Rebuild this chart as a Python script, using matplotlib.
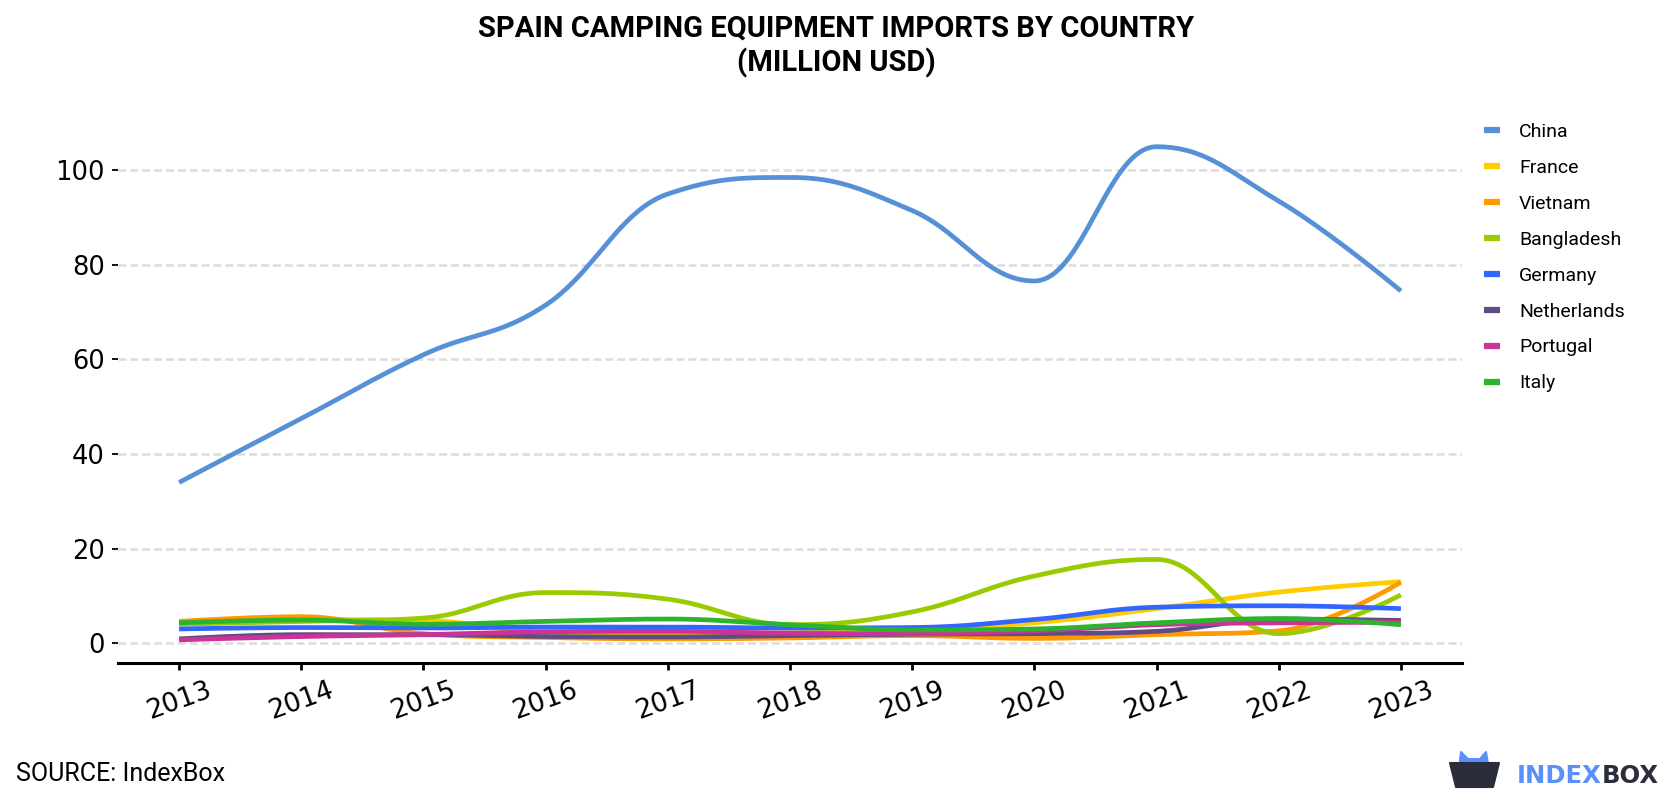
import numpy as np
import matplotlib
matplotlib.use("Agg")
import matplotlib.pyplot as plt
from matplotlib import font_manager
from matplotlib.patches import Polygon

plt.rcParams['font.family'] = ['Roboto', 'DejaVu Sans']

# data, million USD
years = [2013, 2014, 2015, 2016, 2017, 2018, 2019, 2020, 2021, 2022, 2023]
china = [34.0, 47.5, 61.0, 71.5, 95.0, 98.5, 91.5, 76.6, 105.0, 93.5, 74.5]
france = [4.2, 5.0, 4.8, 2.3, 2.0, 2.2, 2.8, 4.3, 7.3, 10.8, 13.0]
vietnam = [4.6, 5.6, 2.0, 1.2, 0.9, 1.1, 1.6, 1.0, 1.8, 2.6, 12.9]
bangladesh = [4.0, 4.6, 5.3, 10.7, 9.3, 3.9, 6.6, 14.2, 17.7, 2.0, 10.2]
germany = [3.0, 3.3, 3.2, 3.4, 3.4, 3.2, 3.3, 5.0, 7.6, 7.9, 7.3]
netherlands = [0.9, 1.8, 1.8, 1.4, 1.3, 1.6, 1.9, 2.0, 2.5, 5.1, 4.8]
portugal = [0.7, 1.4, 1.8, 2.4, 2.5, 2.1, 2.0, 2.6, 3.9, 4.3, 4.4]
italy = [4.3, 4.9, 4.0, 4.6, 5.1, 3.9, 2.8, 3.0, 4.3, 5.2, 3.9]

names = ['China', 'France', 'Vietnam', 'Bangladesh', 'Germany', 'Netherlands', 'Portugal', 'Italy']
series = [china, france, vietnam, bangladesh, germany, netherlands, portugal, italy]
colors = ['#5690d6', '#ffcc00', '#ff9900', '#99cc00', '#3366ff', '#604c84', '#cc3399', '#2eb32e']


def spline(x, y, n=40):
    # bezier spline with control points kept between neighbours (no false extremes)
    x = np.asarray(x, float)
    y = np.asarray(y, float)
    sm = 1.5
    lx, ly, rx, ry = x.copy(), y.copy(), x.copy(), y.copy()
    for i in range(1, len(x) - 1):
        lcx = (sm * x[i] + x[i - 1]) / (sm + 1)
        lcy = (sm * y[i] + y[i - 1]) / (sm + 1)
        rcx = (sm * x[i] + x[i + 1]) / (sm + 1)
        rcy = (sm * y[i] + y[i + 1]) / (sm + 1)
        corr = (rcy - lcy) * (rcx - x[i]) / (rcx - lcx) + y[i] - rcy
        lcy += corr
        rcy += corr
        if lcy > y[i - 1] and lcy > y[i]:
            lcy = max(y[i - 1], y[i])
            rcy = 2 * y[i] - lcy
        elif lcy < y[i - 1] and lcy < y[i]:
            lcy = min(y[i - 1], y[i])
            rcy = 2 * y[i] - lcy
        if rcy > y[i + 1] and rcy > y[i]:
            rcy = max(y[i + 1], y[i])
            lcy = 2 * y[i] - rcy
        elif rcy < y[i + 1] and rcy < y[i]:
            rcy = min(y[i + 1], y[i])
            lcy = 2 * y[i] - rcy
        lx[i], ly[i], rx[i], ry[i] = lcx, lcy, rcx, rcy
    xs, ys = [], []
    for k in range(len(x) - 1):
        t = np.linspace(0, 1, n, endpoint=(k == len(x) - 2))
        a, b, c, d = (1 - t)**3, 3 * t * (1 - t)**2, 3 * t**2 * (1 - t), t**3
        xs.append(a * x[k] + b * rx[k] + c * lx[k + 1] + d * x[k + 1])
        ys.append(a * y[k] + b * ry[k] + c * ly[k + 1] + d * y[k + 1])
    return np.concatenate(xs), np.concatenate(ys)


installed = {f.name for f in font_manager.fontManager.ttflist}
if 'Liberation Sans Narrow' in installed:
    title_font, title_size = ['Liberation Sans Narrow', 'DejaVu Sans'], 25
else:
    title_font, title_size = ['Roboto', 'DejaVu Sans'], 21

fig = plt.figure(figsize=(16.8, 8), dpi=100)
ax = fig.add_axes([118 / 1680, 137 / 800, (1462 - 118) / 1680, (663 - 107) / 800])

for name, vals, c in zip(names, series, colors):
    sx, sy = spline(years, vals)
    ax.plot(sx, sy, color=c, lw=3.4, label=name, solid_capstyle='butt')

ax.set_xlim(2012.5, 2023.5)
ax.set_ylim(-4.2, 113.4)
ax.set_xticks(years)
ax.set_xticklabels([str(y) for y in years], rotation=20, fontsize=19, family='DejaVu Sans')
ax.set_yticks([0, 20, 40, 60, 80, 100])
ax.set_yticklabels(['0', '20', '40', '60', '80', '100'], fontsize=18.5, family='DejaVu Sans')
ax.tick_params(axis='y', length=4.5, width=1.3, pad=5, color='black')
ax.tick_params(axis='x', length=5, width=2, pad=5, color='black')
ax.grid(axis='y', color='#dddddd', lw=1.9, linestyle=(0, (3, 1.5)))
ax.set_axisbelow(True)
for s in ['top', 'right', 'left']:
    ax.spines[s].set_visible(False)
ax.spines['bottom'].set_linewidth(2.2)

leg = ax.legend(loc='upper left', bbox_to_anchor=(1.0164, 0.971), frameon=False,
                borderaxespad=0, borderpad=0,
                fontsize=14, handlelength=0.8, handletextpad=1.0, labelspacing=0.92)
for line in leg.get_lines():
    line.set_linewidth(4.5)

fig.text(0.4976, 1 - 29 / 800, 'SPAIN CAMPING EQUIPMENT IMPORTS BY COUNTRY',
         ha='center', va='center', fontsize=title_size, fontweight='bold', family=title_font)
fig.text(0.4976, 1 - 63 / 800, '(MILLION USD)',
         ha='center', va='center', fontsize=title_size, fontweight='bold', family=title_font)
fig.text(16 / 1680, 1 - 774 / 800, 'SOURCE: IndexBox', ha='left', va='center', fontsize=18)

# logo
body = [[1450, 763], [1499, 763], [1493, 787], [1456, 787]]
ears = [[1459, 770], [1461, 752], [1468, 759], [1480, 759], [1486, 752], [1489, 770]]
for pts, c in ((ears, '#5b8ff9'), (body, '#2b2d3a')):
    xy = np.array(pts, float)
    xy[:, 0] = xy[:, 0] / 1680
    xy[:, 1] = 1 - xy[:, 1] / 800
    fig.patches.append(Polygon(xy, closed=True, transform=fig.transFigure, color=c,
                               joinstyle='round', lw=1.5))
t1 = fig.text(1517 / 1680, 1 - 776 / 800, 'INDEX', ha='left', va='center', fontsize=17.5,
              fontweight='bold', color='#5b8ff9', family='DejaVu Sans')
fig.canvas.draw()
bb = t1.get_window_extent()
fig.text(bb.x1 / 1680, 1 - 776 / 800, 'BOX', ha='left', va='center', fontsize=17.5,
         fontweight='bold', color='#2b2d3a', family='DejaVu Sans')

fig.savefig('out.png', dpi=100)
